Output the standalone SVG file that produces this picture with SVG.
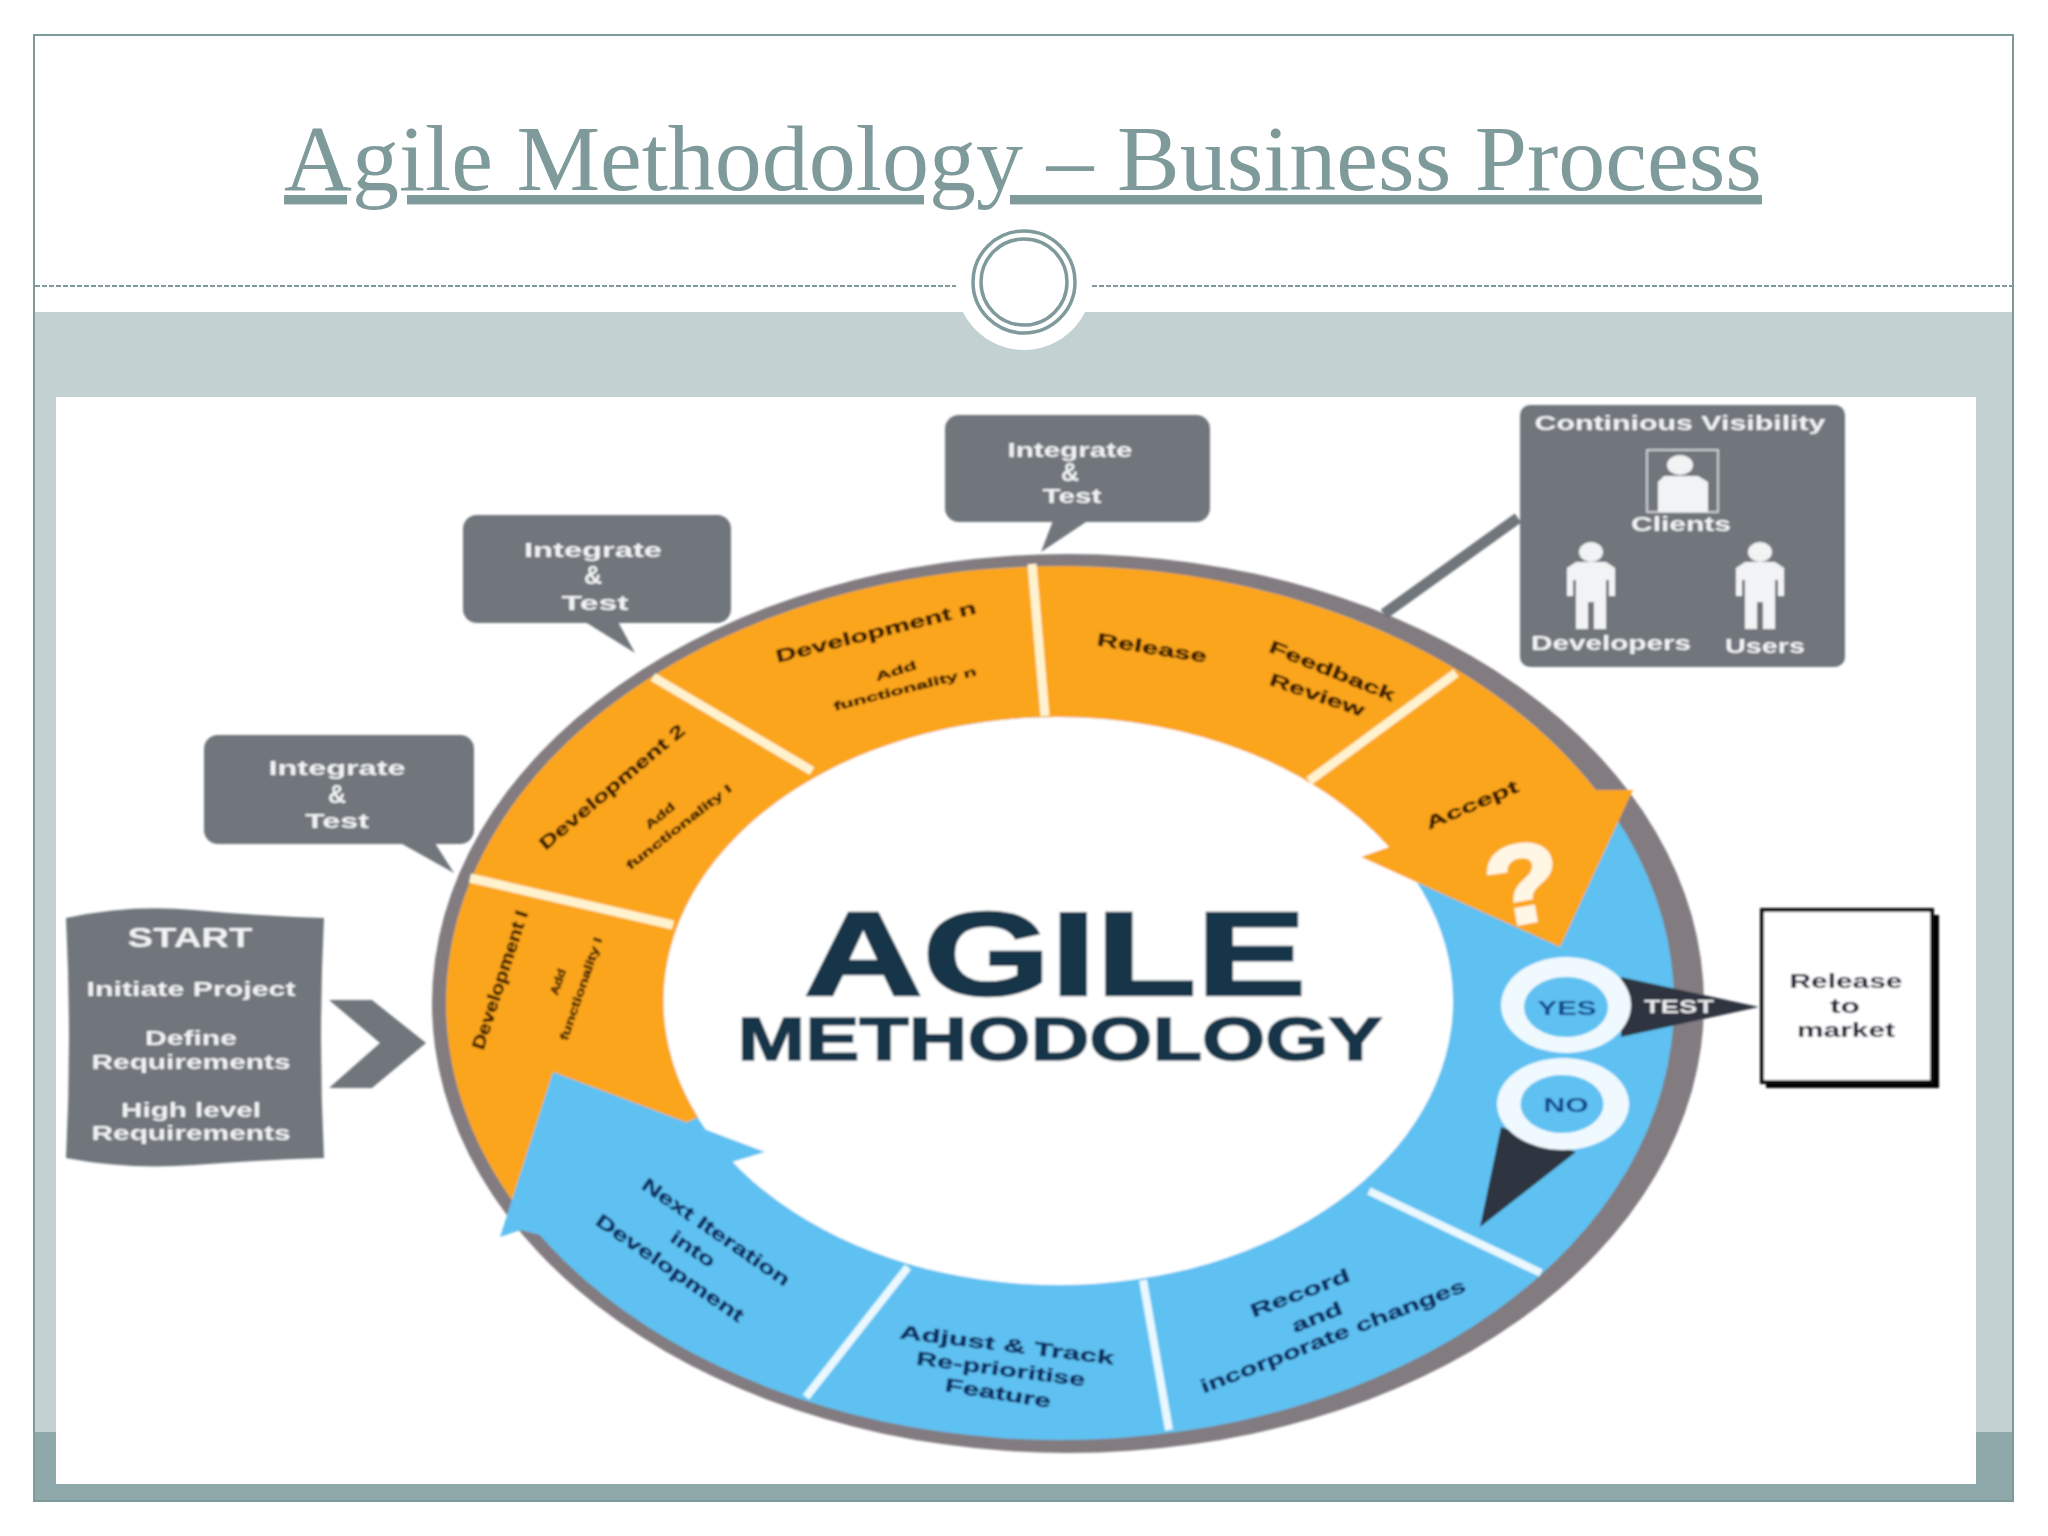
<svg xmlns="http://www.w3.org/2000/svg" xmlns:xlink="http://www.w3.org/1999/xlink" width="2048" height="1536" viewBox="0 0 2048 1536">
<style>
text{font-family:"Liberation Sans",Arial,sans-serif;font-weight:700;text-anchor:middle}
.title{font-family:"Liberation Serif","Times New Roman",serif;font-weight:400;font-size:94px;fill:#7f9a9b;text-decoration:underline;text-decoration-skip-ink:none}
.box{fill:#70767c}
.w{fill:#f2f3f4;font-size:21px}
.amp{font-size:25px}
.or{fill:#3a1c00;stroke:#3a1c00;stroke-width:.4;dominant-baseline:central;font-size:18px}
.os{fill:#3a1c00;stroke:#3a1c00;stroke-width:.4;dominant-baseline:central;font-size:12px}
.bl{fill:#0b2f63;stroke:#0b2f63;stroke-width:.4;dominant-baseline:central;font-size:19px}
.div1{stroke:#fff3cf;stroke-width:9;fill:none}
.div2{stroke:#eaf8ff;stroke-width:8;fill:none}
.dash{stroke:#7f9a9b;stroke-width:2;stroke-dasharray:5 2;fill:none}
.ringl{fill:none;stroke:#7f9a9b;stroke-width:3.5}
.circ{fill:#eff9fe}
.cin{fill:#5fc1f1}
.dark{fill:#2f3540}
</style>
<defs>
<filter id="soft" x="-2%" y="-2%" width="104%" height="104%"><feGaussianBlur stdDeviation="0.9"/></filter>
<g id="person" fill="#f2f3f4">
<ellipse cx="0" cy="0" rx="12" ry="10"/>
<path d="M-15,10H15L24,16V44H18V28H15V77H3V50H-3V77H-15V28H-18V44H-24V16Z"/>
</g>
</defs>
<rect width="2048" height="1536" fill="#fff"/>
<g id="slide">
<rect x="34" y="312" width="1979" height="1190" fill="#c3d1d3"/>
<rect x="34" y="1432" width="1979" height="70" fill="#8fa9aa"/>
<rect x="34" y="35" width="1979" height="1466" fill="none" stroke="#7f9a9b" stroke-width="2"/>
<path class="dash" d="M35,286H956M1092,286H2012"/>
<circle cx="1024" cy="282" r="68" fill="#fff"/>
<circle cx="1024" cy="282" r="51" class="ringl"/>
<circle cx="1024" cy="282" r="43" class="ringl"/>
<text class="title" x="1023" y="190">Agile Methodology – Business Process</text>
<rect x="56" y="397" width="1920" height="1087" fill="#fff"/>
</g>
<g filter="url(#soft)">
<g id="ring">
<ellipse cx="1068" cy="1003.500" rx="636" ry="449.500" fill="#827b80"/>
<ellipse cx="1060" cy="1003" rx="614" ry="437" fill="#5fc1f1"/>
<ellipse cx="1058" cy="1001" rx="395" ry="284" fill="#fff"/>
<path fill="#fba51e" d="M517,1207A614,437 0 0 1 1060,566A614,437 0 0 1 1596,790L1633,790L1560,947L1361,857L1389,847A395,284 0 0 0 1058,717A395,284 0 0 0 698,1117Z"/>
<path fill="#5fc1f1" d="M553,1072L765,1152L729,1163A395,284 0 0 0 790,1210L620,1290L540,1235L521,1230L500,1237Z"/>
<path class="div1" d="M470,878L673,925M653,677L812,771M1032,564L1045,716M1456,673L1309,781"/>
<path class="div2" d="M1541,1273L1369,1191M1143,1280L1169,1430M908,1267L806,1397"/>
</g>
<g id="connectors">
<path class="box" d="M395,840L454,873L433,840Z"/>
<path class="box" d="M582,620L635,653L617,620Z"/>
<path class="box" d="M1054,518L1041,552L1092,518Z"/>
<path d="M1518,518L1384,614" stroke="#70767c" stroke-width="11" fill="none"/>
<path class="box" d="M329,1000H372L426,1043L372,1088H329L380,1043Z"/>
<path class="dark" d="M1621,977L1759,1007L1621,1037Z"/>
<path class="dark" d="M1501,1127L1576,1152L1480,1227Z"/>
</g>
<g id="integrate-1"><rect class="box" x="204" y="735" width="270" height="109" rx="14"/>
<text class="w" x="337" y="775" textLength="137" lengthAdjust="spacingAndGlyphs">Integrate</text>
<text class="w amp" x="337" y="803">&amp;</text>
<text class="w" x="337" y="828" textLength="64" lengthAdjust="spacingAndGlyphs">Test</text></g>
<g id="integrate-2"><rect class="box" x="463" y="515" width="268" height="108" rx="14"/>
<text class="w" x="593" y="557" textLength="138" lengthAdjust="spacingAndGlyphs">Integrate</text>
<text class="w amp" x="593" y="584">&amp;</text>
<text class="w" x="595" y="610" textLength="67" lengthAdjust="spacingAndGlyphs">Test</text></g>
<g id="integrate-3"><rect class="box" x="945" y="415" width="265" height="107" rx="14"/>
<text class="w" x="1070" y="457" textLength="125" lengthAdjust="spacingAndGlyphs">Integrate</text>
<text class="w amp" x="1070" y="481">&amp;</text>
<text class="w" x="1072" y="503" textLength="59" lengthAdjust="spacingAndGlyphs">Test</text></g>
<g id="visibility"><rect class="box" x="1520" y="405" width="325" height="262" rx="10"/>
<text class="w" x="1680" y="430" textLength="291" lengthAdjust="spacingAndGlyphs">Continious Visibility</text>
<rect x="1647" y="450" width="71" height="62" fill="none" stroke="#e8eaeb" stroke-width="1.500"/>
<ellipse cx="1680" cy="465" rx="13" ry="10" fill="#f2f3f4"/>
<path fill="#f2f3f4" d="M1664,476H1698L1708,482V512H1658V482Z"/>
<text class="w" x="1681" y="531" textLength="100" lengthAdjust="spacingAndGlyphs">Clients</text>
<use xlink:href="#person" href="#person" x="1591" y="552"/>
<use xlink:href="#person" href="#person" x="1760" y="552"/>
<text class="w" x="1611" y="650" textLength="160" lengthAdjust="spacingAndGlyphs">Developers</text>
<text class="w" x="1765" y="653" textLength="80" lengthAdjust="spacingAndGlyphs">Users</text></g>
<g id="start"><path class="box" d="M66,918Q130,904 194,910T324,918Q318,1040 324,1158Q260,1160 194,1165T66,1158Q72,1040 66,918Z"/>
<text class="w" x="190" y="947" textLength="125" lengthAdjust="spacingAndGlyphs" style="font-size:27px">START</text>
<text class="w" x="191" y="996" textLength="209" lengthAdjust="spacingAndGlyphs">Initiate Project</text>
<text class="w" x="191" y="1045" textLength="92" lengthAdjust="spacingAndGlyphs">Define</text>
<text class="w" x="191" y="1069" textLength="199" lengthAdjust="spacingAndGlyphs">Requirements</text>
<text class="w" x="191" y="1117" textLength="140" lengthAdjust="spacingAndGlyphs">High level</text>
<text class="w" x="191" y="1140" textLength="199" lengthAdjust="spacingAndGlyphs">Requirements</text></g>
<g id="release-market"><path d="M1766,1085H1936V915" fill="none" stroke="#000" stroke-width="6"/>
<rect x="1762" y="910" width="170" height="172" fill="#fff" stroke="#0c0c10" stroke-width="4"/>
<text x="1846" y="988" textLength="113" lengthAdjust="spacingAndGlyphs" style="font-size:20px;fill:#1c1c30">Release</text>
<text x="1845" y="1013" textLength="30" lengthAdjust="spacingAndGlyphs" style="font-size:20px;fill:#1c1c30">to</text>
<text x="1846" y="1037" textLength="98" lengthAdjust="spacingAndGlyphs" style="font-size:20px;fill:#1c1c30">market</text></g>
<g id="decision-yes"><ellipse class="circ" cx="1566" cy="1005" rx="65" ry="48"/><ellipse class="cin" cx="1566" cy="1007" rx="42" ry="30"/>
<text x="1567" y="1015" textLength="59" lengthAdjust="spacingAndGlyphs" style="font-size:20px;fill:#10468a">YES</text>
<text x="1679" y="1013" textLength="70" lengthAdjust="spacingAndGlyphs" style="font-size:19px;fill:#eceef0">TEST</text></g>
<g id="decision-no"><ellipse class="circ" cx="1563" cy="1104" rx="66" ry="46"/><ellipse class="cin" cx="1562" cy="1104" rx="41.500" ry="29"/>
<text x="1566" y="1112" textLength="45" lengthAdjust="spacingAndGlyphs" style="font-size:20px;fill:#10468a">NO</text></g>
<g id="question"><text transform="translate(1530,922) rotate(-10)" textLength="76" lengthAdjust="spacingAndGlyphs" style="font-size:112px;fill:#fff6e4;stroke:#fff6e4;stroke-width:3">?</text></g>
<g id="center-title">
<text x="1055" y="995" textLength="502" lengthAdjust="spacingAndGlyphs" style="font-size:118px;fill:#17354a;stroke:#17354a;stroke-width:2.500">AGILE</text>
<text x="1060" y="1060" textLength="645" lengthAdjust="spacingAndGlyphs" style="font-size:62px;fill:#17354a;stroke:#17354a;stroke-width:1.500">METHODOLOGY</text>
</g>
<g id="seg-dev-1">
<text class="or" transform="translate(500,980) rotate(-72)" textLength="145" lengthAdjust="spacingAndGlyphs">Development I</text>
<text class="os" transform="translate(558,982) rotate(-71)" textLength="27" lengthAdjust="spacingAndGlyphs">Add</text>
<text class="os" transform="translate(581,989) rotate(-71)" textLength="108" lengthAdjust="spacingAndGlyphs">functionality I</text></g>
<g id="seg-dev-2">
<text class="or" transform="translate(612,787) rotate(-40)" textLength="184" lengthAdjust="spacingAndGlyphs">Development 2</text>
<text class="os" transform="translate(660,816) rotate(-39)" textLength="35" lengthAdjust="spacingAndGlyphs">Add</text>
<text class="os" transform="translate(679,827) rotate(-38)" textLength="130" lengthAdjust="spacingAndGlyphs">functionality I</text></g>
<g id="seg-dev-n">
<text class="or" transform="translate(876,632) rotate(-14)" textLength="206" lengthAdjust="spacingAndGlyphs">Development n</text>
<text class="os" transform="translate(896,671) rotate(-17)" textLength="42" lengthAdjust="spacingAndGlyphs">Add</text>
<text class="os" transform="translate(905,689) rotate(-14)" textLength="147" lengthAdjust="spacingAndGlyphs">functionality n</text></g>
<g id="seg-release">
<text class="or" transform="translate(1152,648) rotate(9)" textLength="111" lengthAdjust="spacingAndGlyphs">Release</text>
<text class="or" transform="translate(1332,671) rotate(22)" textLength="134" lengthAdjust="spacingAndGlyphs">Feedback</text>
<text class="or" transform="translate(1317,695) rotate(19)" textLength="99" lengthAdjust="spacingAndGlyphs">Review</text></g>
<g id="seg-accept">
<text class="or" transform="translate(1472,805) rotate(-23)" textLength="99" lengthAdjust="spacingAndGlyphs">Accept</text></g>
<g id="seg-next">
<text class="bl" transform="translate(716,1232) rotate(34.500)" textLength="175" lengthAdjust="spacingAndGlyphs">Next Iteration</text>
<text class="bl" transform="translate(693,1249) rotate(34)" textLength="50" lengthAdjust="spacingAndGlyphs">into</text>
<text class="bl" transform="translate(670,1268) rotate(34.500)" textLength="175" lengthAdjust="spacingAndGlyphs">Development</text></g>
<g id="seg-adjust">
<text class="bl" transform="translate(1007,1345) rotate(7)" textLength="216" lengthAdjust="spacingAndGlyphs">Adjust &amp; Track</text>
<text class="bl" transform="translate(1001,1369) rotate(7.400)" textLength="170" lengthAdjust="spacingAndGlyphs">Re-prioritise</text>
<text class="bl" transform="translate(998,1393) rotate(9)" textLength="107" lengthAdjust="spacingAndGlyphs">Feature</text></g>
<g id="seg-record">
<text class="bl" transform="translate(1300,1293) rotate(-20.700)" textLength="105" lengthAdjust="spacingAndGlyphs">Record</text>
<text class="bl" transform="translate(1317,1317) rotate(-22)" textLength="53" lengthAdjust="spacingAndGlyphs">and</text>
<text class="bl" transform="translate(1333,1336) rotate(-21.300)" textLength="283" lengthAdjust="spacingAndGlyphs">incorporate changes</text></g>
</g>
</svg>
